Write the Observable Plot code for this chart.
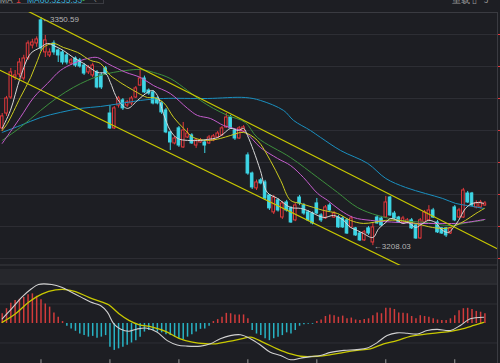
<!DOCTYPE html>
<html><head><meta charset="utf-8">
<script src="https://cdn.jsdelivr.net/npm/d3@7"></script>
<script src="https://cdn.jsdelivr.net/npm/@observablehq/plot@0.6"></script>
<style>
html,body{margin:0;padding:0;background:#1d1e23;}
#wrap{position:relative;width:500px;height:363px;overflow:hidden;background:#1d1e23;font-family:"Liberation Sans",Arial,sans-serif;}
#main{position:absolute;left:0;top:0;}
#macd{position:absolute;left:0;top:265px;}
#band{position:absolute;left:0;top:269px;width:497px;height:14px;background:#26272c;}
#vline{position:absolute;left:497px;top:12px;width:1px;height:351px;background:#3a3b41;}
#topbar{position:absolute;left:0;top:0;width:500px;height:12px;}
#topbar span{position:absolute;top:-5px;font-size:8.5px;line-height:10px;white-space:nowrap;}
#box{position:absolute;left:0;top:-2px;width:102px;height:5px;border:1px solid #3a3b41;border-top:none;}
</style></head>
<body><div id="wrap">
<div id="band"></div>
<div id="topbar">
<div id="box"></div>
<span style="left:0;color:#9aa09a">MA</span><span style="left:16px;color:#e4393c">1</span>
<span style="left:27px;color:#3ab0d8">MA60:3235.33</span><span style="left:82px;color:#3d9f3d">•</span>
<span style="left:94px;color:#888">‹</span>
<span style="left:452px;color:#9a9a9a">重载</span><span style="left:472px;color:#9a9a9a">▯</span><span style="left:484px;color:#9a9a9a">ↄ</span>
</div>
<div id="main"></div>
<div id="macd"></div>
<div id="vline"></div>
</div>
<script>
// ---------- data ----------
const candleOpen = [3281.3,3290.6,3300.6,3313.1,3315.0,3312.5,3325.0,3333.1,3334.4,3348.8,
3328.8,3326.9,3334.4,3330.0,3328.8,3326.9,3321.9,3325.0,3323.8,3320.6,
3316.3,3314.4,3316.3,3314.4,3318.8,3290.6,3281.3,3295.6,3298.8,3295.6,
3296.9,3300.6,3308.1,3312.5,3305.0,3303.8,3300.0,3296.9,3292.5,3278.8,
3271.9,3281.3,3269.4,3275.6,3276.9,3270.6,3272.5,3272.5,3271.9,3273.8,
3275.6,3276.9,3281.9,3288.1,3280.0,3275.0,3279.4,3264.4,3253.1,3243.8,
3248.8,3247.5,3239.4,3228.8,3236.3,3225.6,3235.0,3231.3,3223.8,3238.1,
3233.1,3228.8,3228.1,3234.4,3226.9,3225.0,3233.1,3225.6,3225.6,3225.0,
3223.8,3219.4,3218.8,3215.6,3211.3,3218.8,3210.0,3225.6,3225.0,3225.6,
3238.1,3228.1,3225.6,3222.5,3222.5,3223.8,3220.6,3212.5,3222.5,3223.8,
3230.0,3222.5,3218.8,3218.8,3215.6,3231.9,3225.6,3225.6,3240.6,3240.6,
3231.9,3231.9,3233.1];
const candleHigh = [3290.6,3301.3,3318.8,3317.5,3325.0,3327.0,3336.0,3337.0,3338.5,3350.59,
3339.4,3331.0,3336.0,3331.0,3330.0,3328.0,3325.0,3326.0,3325.0,3321.9,
3320.6,3322.0,3317.5,3316.0,3320.0,3295.6,3295.0,3301.3,3300.0,3298.8,
3301.3,3307.5,3318.8,3314.0,3306.0,3305.0,3301.0,3298.0,3293.8,3279.4,
3276.3,3282.5,3285.0,3281.3,3278.0,3275.0,3275.0,3273.8,3276.9,3277.5,
3279.4,3282.5,3290.6,3289.4,3280.6,3282.5,3283.0,3266.0,3254.0,3249.0,
3250.0,3248.8,3240.0,3239.4,3237.5,3235.6,3236.3,3232.5,3234.4,3239.4,
3234.4,3230.0,3229.0,3237.5,3228.0,3233.1,3234.4,3229.4,3226.9,3226.0,
3225.0,3226.3,3219.4,3216.3,3217.5,3220.0,3221.9,3226.9,3226.3,3238.8,
3238.8,3229.4,3226.3,3226.3,3225.0,3225.0,3221.3,3225.0,3230.0,3233.0,
3231.3,3223.8,3219.4,3219.4,3219.4,3233.1,3231.3,3243.8,3241.9,3241.3,
3236.0,3236.3,3235.6];
const candleLow = [3279.4,3288.8,3299.4,3311.3,3313.0,3311.0,3323.8,3331.0,3332.0,3329.5,
3325.6,3325.6,3327.0,3322.5,3321.0,3321.0,3320.6,3319.4,3319.0,3314.4,
3315.0,3313.0,3306.0,3305.6,3314.4,3280.6,3280.6,3294.0,3292.5,3294.4,
3295.6,3300.0,3307.5,3303.0,3302.0,3296.0,3296.0,3290.0,3278.0,3267.5,
3271.0,3269.4,3268.8,3275.0,3271.3,3268.8,3271.9,3265.6,3271.3,3273.0,
3275.0,3276.3,3281.3,3280.6,3273.8,3274.4,3278.5,3252.0,3243.1,3242.5,
3246.0,3236.3,3230.0,3227.5,3229.0,3224.4,3229.0,3221.9,3223.0,3233.0,
3227.0,3223.0,3221.0,3227.5,3222.5,3224.4,3229.4,3225.0,3218.8,3218.8,
3215.0,3218.8,3213.8,3210.6,3210.6,3214.4,3208.03,3221.3,3220.0,3225.0,
3226.3,3224.4,3221.9,3221.3,3221.9,3218.1,3211.9,3211.9,3221.9,3223.0,
3225.0,3215.6,3215.0,3213.1,3215.0,3223.0,3225.0,3225.0,3234.4,3232.5,
3231.0,3231.0,3232.5];
const candleClose = [3288.8,3300.0,3316.3,3314.4,3322.5,3325.0,3334.4,3335.0,3336.9,3331.3,
3336.3,3328.8,3328.8,3326.9,3322.5,3322.5,3323.8,3320.6,3320.0,3315.6,
3319.4,3320.6,3306.9,3306.9,3315.6,3281.3,3293.8,3300.0,3293.8,3297.5,
3300.0,3306.3,3312.5,3303.8,3303.1,3296.9,3296.9,3291.3,3278.8,3272.5,
3275.0,3270.6,3280.0,3278.1,3271.9,3273.8,3273.8,3270.6,3275.6,3276.3,
3278.1,3281.3,3288.1,3281.3,3275.0,3281.3,3281.9,3253.1,3244.4,3247.5,
3246.9,3237.5,3231.3,3238.1,3230.0,3234.4,3230.0,3222.5,3233.1,3234.4,
3228.1,3223.8,3221.9,3228.1,3223.8,3231.9,3230.0,3228.1,3219.4,3219.4,
3215.6,3225.0,3214.4,3211.3,3216.3,3215.6,3219.4,3221.9,3220.6,3235.0,
3226.9,3225.0,3222.5,3225.0,3223.8,3218.8,3212.5,3223.8,3228.8,3230.0,
3225.6,3216.3,3215.6,3214.4,3218.8,3223.8,3230.0,3242.5,3235.0,3233.1,
3234.4,3235.0,3234.4];

const ma5Idx = [0,1.9,4.2,6.6,8.9,10.5,11.9,14.2,16.5,18.9,22.1,24,25.1,26.3,27.3,29.1,31.4,33.7,34.9,36,37.4,39,40.7,43,46,47.6,50,51.4,53,54.8,56,56.9,58.3,59.9,61.5,63.9,66.9,69.2,70.8,74.6,76.9,79.2,80.8,82.4,83.8,86,87.4,89,90.1,91.7,92.9,94.2,95.9,97.6,98.9,100.5,102.2,103.6,104.7,105.9,107.5,109.1,110.5,111.7];
const ma5Val = [3281.3,3292.5,3313.1,3328.1,3331.9,3334.4,3333.1,3330,3325.6,3321.9,3316.3,3315.6,3310,3301.9,3297.5,3293.8,3298.8,3303.8,3305,3301.9,3290.6,3280,3275,3273.8,3273.8,3274.4,3275.6,3278.1,3281.3,3280,3281.3,3276.9,3267.5,3255,3241.3,3237.5,3231.9,3231.3,3230,3225.6,3226.9,3223.8,3219.4,3217.5,3215.6,3213.1,3218.8,3222.5,3225,3223.8,3221.9,3222.5,3219.4,3221.9,3223.8,3222.5,3217.5,3216.3,3219.4,3223.8,3231.3,3234.4,3235,3234.4];

const ma10Idx = [0,1.2,4.2,6.6,8.2,9.6,11.9,14.2,17.5,20.5,22.8,25.1,26.7,27.4,30.5,33.7,35.1,37.4,39.8,42.1,44.4,47.6,50.6,53,56,59.2,62.2,64.6,66.9,69.2,72.2,74.6,77.8,80.8,83.8,89,91.9,95.9,99.8,102.9,105.2,107.5,109.9,111.9];
const ma10Val = [3280,3284.4,3300.6,3313.1,3323.8,3331.9,3334.4,3331.9,3328.8,3323.8,3321.9,3314.4,3311.3,3310,3305,3300.6,3300.6,3297.5,3288.1,3281.3,3275.6,3273.8,3275,3276.9,3278.8,3273.8,3261.3,3248.8,3236.3,3234.4,3231.9,3230,3228.1,3223.8,3221.9,3223.8,3223.8,3221.9,3219.4,3218.8,3220.6,3223.8,3228.1,3231.3];

const ma20Idx = [0,4.2,7.3,10.5,13.5,16.5,19.8,22.1,24.4,26.7,28.7,32.1,35.1,39,43,45.3,48.3,51.4,53.7,56.4,59.9,63.9,66.9,69.9,73.2,75.5,78.5,81.5,85.5,91.9,96.6,101.2,105.2,107.6,112];
const ma20Val = [3271.9,3288.1,3300.6,3309.4,3317.5,3321.9,3325,3325.6,3321.9,3318.8,3316.3,3313.1,3308.1,3303.1,3293.8,3289.4,3287.5,3283.1,3281.3,3278.8,3269.4,3262.5,3258.1,3250.6,3240.6,3236.3,3230,3225.6,3223.8,3222.5,3221.9,3221.9,3221.9,3222.5,3224.4];

const ma30Idx = [0,4.2,8.9,12.8,16.5,19.8,22.8,25.8,28.7,32.1,35.1,39,43,46,49,52.3,56.4,59.2,66.9,73.2,77.8,82.4,87.1,92.4,98.2,104,108.2,111.7];
const ma30Val = [3273.8,3281.9,3292.5,3300.6,3306.9,3311.3,3314.4,3316.3,3317.5,3318.1,3316.3,3312.5,3305,3298.8,3293.8,3289.4,3285,3275.6,3263.1,3250.6,3241.3,3231.9,3226.9,3223.8,3222.5,3220.6,3222.5,3223.8];

const ma60Idx = [0,4.2,8.9,13.5,18.2,22.8,27.5,32.1,37.4,47.6,56.4,59.9,65.3,67.6,71.5,73.9,78.5,84.8,89,93.6,98.2,102.2,105.2,107.9,111.7];
const ma60Val = [3278.8,3283.1,3288.1,3291.3,3293.8,3295,3296.9,3298.8,3300,3300,3300.6,3298.8,3292.5,3286.3,3280,3275.6,3267.5,3259.4,3250,3244.4,3240.6,3237.5,3234.4,3233.1,3231.3];

const trendAIdx = [0, 116], trendAVal = [3362.7, 3204.5];
const trendBIdx = [-0.4, 100], trendBVal = [3317.5, 3185.6];

const gridPrices = [3340,3320,3300,3280,3260,3240,3220,3200];
const highIdx = 9, highVal = 3350.59, lowIdx = 86, lowVal = 3208.03;

const macdHist = [2.5,3.8,5.2,5.9,6.2,6.7,7.4,7.6,7.0,6.1,5.0,4.2,2.7,1.6,0.5,
-0.7,-1.4,-2.0,-2.7,-3.1,-3.5,-3.3,-3.8,-3.5,-3.1,-6.1,-6.9,-6.5,-6.1,-5.6,-5.0,-4.4,-3.5,-2.2,-1.8,-1.8,-2.2,-2.4,-2.9,-3.1,-3.5,-3.9,-4.1,-3.5,-2.9,-2.2,-1.5,-1.4,-0.7,
0.5,1.0,1.6,2.6,2.5,2.2,2.2,2.2,1.2,
-1.8,-2.7,-3.1,-3.9,-4.4,-3.9,-3.5,-3.1,-2.4,-2.7,-1.8,-0.7,-0.3,-0.2,-0.2,
0.5,0.9,1.8,2.2,2.0,1.6,1.9,1.2,1.4,0.9,0.8,1.0,1.2,2.0,2.7,2.5,3.9,3.9,3.6,2.7,2.6,2.5,1.8,1.2,2.0,1.8,1.6,1.2,0.9,0.8,0.8,1.2,2.0,3.3,3.8,3.9,3.6,3.1,2.9,2.5];

const difIdx = [0,2.2,4.5,6.8,8.4,11.5,13.8,16.1,18.4,20.5,22.8,24.4,25.9,27.4,29.4,31.3,33.6,35.9,38.3,40.6,42.9,46,48.3,50.6,52.9,55.3,57.6,59.9,62.2,64.6,66.9,69.2,71.5,73.8,76.2,79.3,82.3,84.7,87,89.3,91.6,94,96.3,98.6,100.9,104,106.3,108.6,111.7];
const difVal = [1.2,3.8,6.7,8.9,10.0,10.0,9.3,8.0,6.7,5.5,4.6,2.9,-0.1,-1.4,-2.0,-1.4,-1.2,-2.2,-4.4,-5.5,-5.8,-5.8,-5.2,-3.9,-3.1,-2.9,-3.9,-5.5,-7.4,-8.2,-9.3,-8.9,-8.5,-8.2,-7.4,-6.9,-6.7,-6.3,-4.9,-3.1,-2.4,-2.5,-2.7,-1.8,-1.5,-1.8,-0.5,1.2,1.6];
const deaIdx = [0,3.1,6.2,9.3,12.4,14.7,17,20.1,23.2,24.7,27.1,29.4,31.7,34.8,37.9,41,44.1,47.2,49.5,52.6,55.7,57.6,60.7,63.8,66.9,69.2,73.1,76.2,79.3,82.3,85.4,88.5,91.6,94.7,97.8,100.9,104,106.3,109.4,111.7];
const deaVal = [0.3,2.5,5.5,7.6,8.6,8.7,8.2,6.7,5.5,4.8,2.5,0.8,-0.3,-0.9,-2.0,-3.8,-4.8,-5.2,-5.2,-4.6,-3.9,-3.5,-4.9,-6.5,-7.8,-8.4,-8.4,-8.0,-7.4,-6.9,-6.5,-5.2,-4.4,-3.3,-2.8,-2.4,-2.0,-1.5,-0.5,0.3];

const timeTickIdx = [9,25,41,57,73,89,105];

// ---------- styles ----------
const BG = "#1d1e23", GRID = "#2e2f35", BORDER = "#3a3b41";
const RED = "#e4393c", CYAN = "#3ed6e6";
const HRED = "#d23b3b", HCYAN = "#27b3c4";
const X_DOMAIN = [-1.7/4.31, 495.3/4.31];
const font = "Liberation Sans, Arial, sans-serif";

const candles = candleOpen.map((o,i)=>({i, o, h:candleHigh[i], l:candleLow[i], c:candleClose[i], up: candleClose[i] >= o}));
const pts = (idx, val) => idx.map((i,k)=>({i, v: val[k]}));

const main = Plot.plot({
  width: 500, height: 265,
  marginTop: 12, marginBottom: 0, marginLeft: 0, marginRight: 3,
  x: {domain: X_DOMAIN, axis: null},
  y: {domain: [3195.6, 3353.75], axis: null},
  style: {background: "transparent", fontFamily: font, overflow: "visible"},
  marks: [
    Plot.ruleY(gridPrices, {stroke: GRID}),
    Plot.ruleY([3353.75], {stroke: BORDER}),
    Plot.ruleY([3195.6], {stroke: BORDER, dy: -0.5}),
    Plot.ruleY(gridPrices, {x1: X_DOMAIN[1], x2: X_DOMAIN[1] + 0.8, stroke: RED}),
    Plot.ruleX(candles, {x: "i", y1: "l", y2: "h", stroke: d => d.up ? RED : CYAN, strokeWidth: 1}),
    Plot.rect(candles, {
      x1: d => d.i - 0.3, x2: d => d.i + 0.3,
      y1: d => Math.min(d.o, d.c), y2: d => Math.max(d.o, d.c, Math.min(d.o, d.c) + 0.7),
      fill: d => d.up ? BG : CYAN, stroke: d => d.up ? RED : CYAN, strokeWidth: 1
    }),
    Plot.line(pts(ma60Idx, ma60Val), {x: "i", y: "v", stroke: "#1a8fbf", strokeWidth: 1, curve: "catmull-rom"}),
    Plot.line(pts(ma30Idx, ma30Val), {x: "i", y: "v", stroke: "#3d8f3d", strokeWidth: 1, curve: "catmull-rom"}),
    Plot.line(pts(ma20Idx, ma20Val), {x: "i", y: "v", stroke: "#c45ccc", strokeWidth: 1, curve: "catmull-rom"}),
    Plot.line(pts(ma10Idx, ma10Val), {x: "i", y: "v", stroke: "#cccc1e", strokeWidth: 1, curve: "catmull-rom"}),
    Plot.line(pts(ma5Idx, ma5Val), {x: "i", y: "v", stroke: "#d8d8d8", strokeWidth: 1, curve: "catmull-rom"}),
    Plot.line(pts(trendAIdx, trendAVal), {x: "i", y: "v", stroke: "#c8c800", strokeWidth: 1.2, clip: true}),
    Plot.line(pts(trendBIdx, trendBVal), {x: "i", y: "v", stroke: "#c8c800", strokeWidth: 1.2, clip: true}),
    Plot.text([{i: highIdx, v: highVal}], {x: "i", y: "v", text: d => "←" + d.v.toFixed(2), textAnchor: "start", dx: 1, dy: 2, fill: "#b4b4b4", fontSize: 8}),
    Plot.text([{i: lowIdx, v: lowVal}], {x: "i", y: "v", text: d => "←" + d.v.toFixed(2), textAnchor: "start", dx: 1, dy: 0.5, fill: "#b4b4b4", fontSize: 8})
  ]
});
document.getElementById("main").appendChild(main);

const hist = macdHist.map((v,i)=>({i, v}));
const macd = Plot.plot({
  width: 500, height: 98,
  marginTop: 18, marginBottom: 0, marginLeft: 0, marginRight: 3,
  x: {domain: X_DOMAIN, axis: null},
  y: {domain: [-10.26, 10.26], axis: null},
  style: {background: "transparent", fontFamily: font},
  marks: [
    Plot.ruleY([10.26], {stroke: BORDER, dy: 0.5}),
    Plot.ruleY([5, -5], {stroke: GRID}),
    Plot.ruleX(hist, {x: "i", y1: 0, y2: "v", stroke: d => d.v >= 0 ? HRED : HCYAN, strokeWidth: 1.5}),
    Plot.line(pts(deaIdx, deaVal), {x: "i", y: "v", stroke: "#c8c800", strokeWidth: 1.3, curve: "catmull-rom"}),
    Plot.line(pts(difIdx, difVal), {x: "i", y: "v", stroke: "#d0d0d0", strokeWidth: 1.1, curve: "catmull-rom"}),
    Plot.ruleX(timeTickIdx, {y1: -10.26, y2: -9.3, stroke: "#9a9a9a"})
  ]
});
document.getElementById("macd").appendChild(macd);
</script>
</body></html>
